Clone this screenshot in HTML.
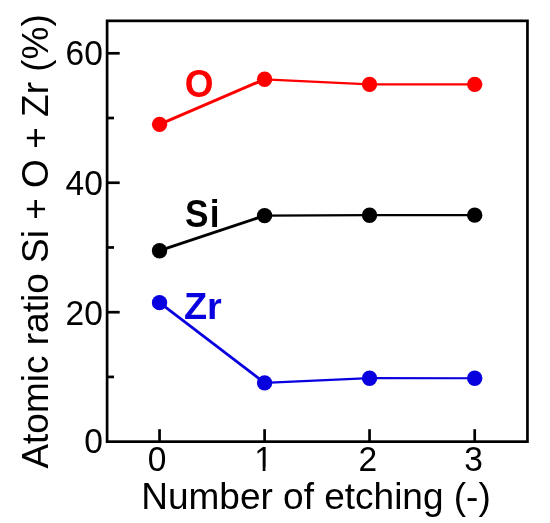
<!DOCTYPE html>
<html><head><meta charset="utf-8"><style>
html,body{margin:0;padding:0;background:#fff;}
svg{display:block;}
text{font-family:"Liberation Sans",Arial,sans-serif;}
</style></head><body>
<svg width="550" height="523" viewBox="0 0 550 523">
<rect x="0" y="0" width="550" height="523" fill="#fff"/>
<g stroke="#000" stroke-width="2.7" fill="none">
<rect x="107.1" y="20.85" width="420.35" height="420.8"/>
<line x1="107.1" y1="376.92" x2="114.00" y2="376.92"/>
<line x1="107.1" y1="312.20" x2="119.70" y2="312.20"/>
<line x1="107.1" y1="247.47" x2="114.00" y2="247.47"/>
<line x1="107.1" y1="182.75" x2="119.70" y2="182.75"/>
<line x1="107.1" y1="118.02" x2="114.00" y2="118.02"/>
<line x1="107.1" y1="53.30" x2="119.70" y2="53.30"/>
<line x1="159.55" y1="441.65" x2="159.55" y2="429.2"/>
<line x1="264.60" y1="441.65" x2="264.60" y2="429.2"/>
<line x1="369.55" y1="441.65" x2="369.55" y2="429.2"/>
<line x1="474.70" y1="441.65" x2="474.70" y2="429.2"/>
</g>
<line x1="159.55" y1="124.35" x2="264.60" y2="79.30" stroke="#ff0000" stroke-width="3.0"/>
<line x1="264.60" y1="79.30" x2="369.55" y2="84.35" stroke="#ff0000" stroke-width="2.2"/>
<line x1="369.55" y1="84.35" x2="474.70" y2="84.35" stroke="#ff0000" stroke-width="2.2"/>
<circle cx="159.55" cy="124.35" r="7.7" fill="#ff0000"/>
<circle cx="264.60" cy="79.30" r="7.7" fill="#ff0000"/>
<circle cx="369.55" cy="84.35" r="7.7" fill="#ff0000"/>
<circle cx="474.70" cy="84.35" r="7.7" fill="#ff0000"/>
<line x1="159.55" y1="250.70" x2="264.60" y2="215.60" stroke="#000000" stroke-width="3.0"/>
<line x1="264.60" y1="215.60" x2="369.55" y2="215.20" stroke="#000000" stroke-width="2.2"/>
<line x1="369.55" y1="215.20" x2="474.70" y2="215.15" stroke="#000000" stroke-width="2.2"/>
<circle cx="159.55" cy="250.70" r="7.7" fill="#000000"/>
<circle cx="264.60" cy="215.60" r="7.7" fill="#000000"/>
<circle cx="369.55" cy="215.20" r="7.7" fill="#000000"/>
<circle cx="474.70" cy="215.15" r="7.7" fill="#000000"/>
<line x1="159.55" y1="302.65" x2="264.60" y2="382.85" stroke="#0900df" stroke-width="2.8"/>
<line x1="264.60" y1="382.85" x2="369.55" y2="378.20" stroke="#0900df" stroke-width="2.2"/>
<line x1="369.55" y1="378.20" x2="474.70" y2="378.25" stroke="#0900df" stroke-width="2.2"/>
<circle cx="159.55" cy="302.65" r="7.7" fill="#0900df"/>
<circle cx="264.60" cy="382.85" r="7.7" fill="#0900df"/>
<circle cx="369.55" cy="378.20" r="7.7" fill="#0900df"/>
<circle cx="474.70" cy="378.25" r="7.7" fill="#0900df"/>
<g font-size="33.5" fill="#000">
<text transform="translate(102.8,452.65) scale(1,1.04)" text-anchor="end">0</text><text transform="translate(102.8,324.70) scale(1,1.04)" text-anchor="end">20</text><text transform="translate(102.8,195.05) scale(1,1.04)" text-anchor="end">40</text><text transform="translate(102.8,65.40) scale(1,1.04)" text-anchor="end">60</text>
<text transform="translate(157.0,471.4) scale(1,1.04)" text-anchor="middle">0</text><text transform="translate(263.5,471.4) scale(1,1.04)" text-anchor="middle">1</text><text transform="translate(367.8,471.4) scale(1,1.04)" text-anchor="middle">2</text><text transform="translate(473.55,471.4) scale(1,1.04)" text-anchor="middle">3</text>
</g>
<rect x="255" y="467.5" width="7.7" height="4.5" fill="#fff"/><rect x="265.4" y="467.5" width="7" height="4.5" fill="#fff"/>
<g font-size="37" font-weight="bold">
<text transform="translate(184.7,96.5) scale(1,1.055)" fill="#ff0000">O</text>
<text transform="translate(185,226.8) scale(0.94,1.02)" font-size="37.5" fill="#000">S<tspan dx="1.3">i</tspan></text>
<text x="184" y="318.9" font-size="37.8" fill="#0900df">Zr</text>
</g>
<text x="141.2" y="509" font-size="37" fill="#000">Number of etching (-)</text>
<text transform="translate(47.6,468.6) rotate(-90)" font-size="37" fill="#000">Atomic ratio Si + O + Zr (%)</text>
</svg>
</body></html>
